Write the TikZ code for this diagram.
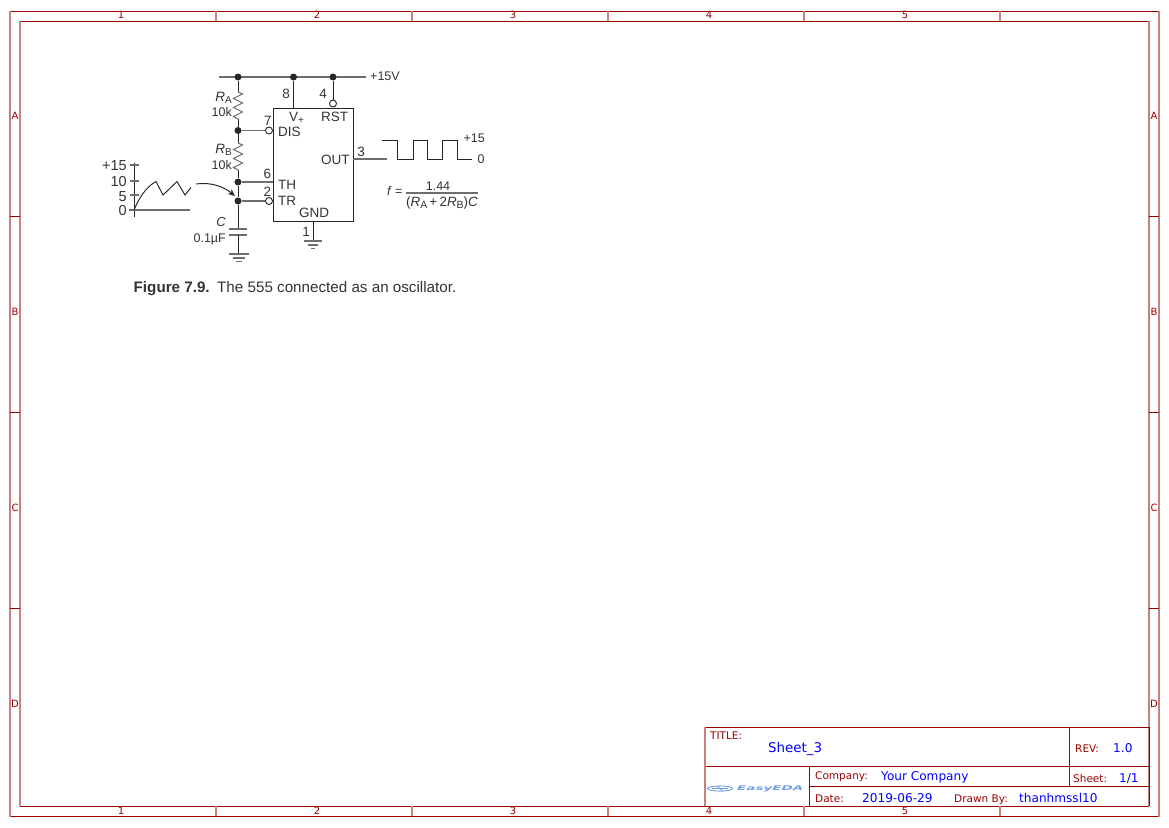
\documentclass[tikz,border=0pt]{standalone}
\usepackage{fontspec}
\setmainfont{Liberation Sans}
\newfontfamily\dv{DejaVu Sans}
\usetikzlibrary{arrows.meta}
\definecolor{fr}{HTML}{990000}
\definecolor{frl}{HTML}{C98080}
\definecolor{wire}{HTML}{262626}
\definecolor{gwire}{HTML}{6E6E6E}
\definecolor{txt}{HTML}{333333}
\definecolor{blu}{HTML}{0000FF}
\definecolor{logo}{HTML}{6F9FE8}
\tikzset{
  x=1pt,y=-1pt,
  frh/.style={draw=fr,line width=1pt},
  frv/.style={draw=frl,line width=1.7pt},
  lab/.style={inner sep=0,text=fr,font=\dv\fontsize{10.5}{10.5}\selectfont},
  labw/.style={lab,anchor=base west},
  labc/.style={lab,anchor=base,font=\dv\fontsize{10}{10}\selectfont},
  val/.style={inner sep=0,anchor=base west,text=blu,font=\dv\fontsize{12.1}{12.1}\selectfont},
  sch/.style={draw=wire,line width=.95pt},
  gsch/.style={draw=gwire,line width=1.3pt},
  chipbox/.style={draw=wire,line width=.95pt,inner sep=0,minimum width=80pt,minimum height=113pt},
  dotn/.style={circle,fill=wire,inner sep=0,minimum size=7pt},
  bub/.style={circle,draw=wire,fill=white,line width=.9pt,inner sep=0,minimum size=7pt},
  tx/.style={inner sep=0,text=txt,font=\fontsize{13.5}{13.5}\selectfont},
  txs/.style={inner sep=0,text=txt,font=\fontsize{12.5}{12.5}\selectfont},
}
\begin{document}
\begin{tikzpicture}
\useasboundingbox (0,0) rectangle (1169,827);
% frame
\draw[frh] (10,11)--(1159,11) (10,816.5)--(1159,816.5) (20,21)--(1149,21) (20,806)--(1149,806);
\draw[frv] (10,11)--(10,817) (1159,11)--(1159,817) (20,21)--(20,806) (1149,21)--(1149,806);
\foreach \x in {216,412,608,804,1000}{\draw[frv] (\x,11)--(\x,21) (\x,806)--(\x,816);}
\foreach \y in {216,412,608}{\draw[frh] (10,\y)--(20,\y) (1149,\y)--(1159,\y);}
\foreach \n/\x in {1/121,2/317,3/513,4/709,5/905}{
  \node[labc] (t\n) at (\x,18.5) {\n};
  \node[labc] (b\n) at (\x,814.5) {\n};}
\foreach \n/\y in {A/119,B/315,C/511,D/707}{
  \node[labc] (l\n) at (15,\y) {\n};
  \node[labc] (r\n) at (1154,\y) {\n};}
% title block
\draw[frh] (705,727)--(1149,727) (705,766)--(1149,766) (809,786)--(1149,786);
\draw[frv] (705,727)--(705,806);
\draw[frh] (1149,727)--(1149,806) (809,766)--(809,806) (1069,727)--(1069,786);
\node[labw] (title) at (710,739) {TITLE:};
\node[val,font=\dv\fontsize{13.4}{13.4}\selectfont] (sheetname) at (768,752) {Sheet\_3};
\node[labw] (rev) at (1075,752.5) {REV:};
\node[val] (revv) at (1113,752.5) {1.0};
\node[labw] (comp) at (815,779.5) {Company:};
\node[val] (compv) at (881,780) {Your Company};
\node[labw] (sh) at (1073,782) {Sheet:};
\node[val] (shv) at (1119,782) {1/1};
\node[labw] (date) at (815,802) {Date:};
\node[val] (datev) at (862,802) {2019-06-29};
\node[labw] (drawn) at (954,802) {Drawn By:};
\node[val] (drawnv) at (1019,802) {thanhmssl10};
% logo
\draw[logo,line width=.9pt] (720,788.5) ellipse [x radius=12.5,y radius=2.6];
\draw[logo,line width=.9pt] (712,788.5)--(728,788.5) (717,786)--(723,791);
\node[inner sep=0,anchor=west,text=logo] (easyeda) at (737,788.5)
  {\scalebox{1.42}[.68]{\dv\bfseries\itshape\fontsize{9.5}{9.5}\selectfont EasyEDA}};
% supply rail
\coordinate (railL) at (219,77);
\coordinate (railR) at (366,77);
\draw[gsch] (railL)--(railR);
\node[dotn] (d1) at (238,77) {};
\node[dotn] (d2) at (293.500,77) {};
\node[dotn] (d3) at (333,77) {};
\node[tx,anchor=base west,font=\fontsize{12.5}{12.5}\selectfont] (v15) at (370,80.5) {+15V};
% chip
\node[chipbox,anchor=north west] (chip) at (273,108) {};
\coordinate (p8) at (293.500,108);
\node[bub] (b4) at (333,103.5) {};
\draw[sch] (d2)--(p8);
\draw[sch] (d3)--(b4);
\node[tx,anchor=base] (n8) at (286,98) {8};
\node[tx,anchor=base] (n4) at (323,98) {4};
\node[tx,anchor=base west] (vp) at (289,121) {V\raisebox{-2.5pt}{\fontsize{10}{10}\selectfont +}};
\node[tx,anchor=base west] (rst) at (321,121) {RST};
\node[tx,anchor=base west] (dis) at (278,136) {DIS};
\node[tx,anchor=base west] (out) at (321,164) {OUT};
\node[tx,anchor=base west] (th) at (278,189.5) {TH};
\node[tx,anchor=base west] (tr) at (278,205.5) {TR};
\node[tx,anchor=base west] (gnd) at (299,217) {GND};
% timing network
\node[dotn] (d4) at (238,130.5) {};
\node[dotn] (d5) at (238,182) {};
\node[dotn] (d6) at (238,201) {};
\node[bub] (b7) at (269,130.5) {};
\node[bub] (b2) at (269,201) {};
\coordinate (ra1) at (238,92);
\coordinate (ra2) at (238,119);
\coordinate (rb1) at (238,143);
\coordinate (rb2) at (238,170);
\draw[sch] (d1)--(ra1);
\draw[gsch,line width=1.1pt] (ra1)--(242.500,94)--(233.500,98.500)--(242.500,103)--(233.500,107.500)--(242.500,112)--(233.500,116.500)--(ra2);
\draw[sch] (ra2)--(d4)--(rb1);
\draw[gsch,line width=1.1pt] (rb1)--(242.500,145)--(233.500,149.500)--(242.500,154)--(233.500,158.500)--(242.500,163)--(233.500,167.500)--(rb2);
\draw[sch] (rb2)--(d5)--(d6);
\draw[gsch] (d4)--(b7);
\draw[gsch] (d5)--(chip.west|-d5);
\draw[gsch] (d6)--(b2);
\node[tx,anchor=base] (n7) at (268,125) {7};
\node[tx,anchor=base] (n6) at (267.500,178.500) {6};
\node[tx,anchor=base] (n2) at (267.500,196.500) {2};
\node[tx,anchor=base east] (ra) at (232,101) {\textit{R}\raisebox{-2.5pt}{\fontsize{10}{10}\selectfont A}};
\node[txs,anchor=base east] (rav) at (232,116) {10k};
\node[tx,anchor=base east] (rb) at (232,153) {\textit{R}\raisebox{-2.5pt}{\fontsize{10}{10}\selectfont B}};
\node[txs,anchor=base east] (rbv) at (232,169) {10k};
% capacitor
\coordinate (c1) at (238,229);
\coordinate (c2) at (238,235);
\coordinate (g1) at (238,254);
\draw[sch] (d6)--(c1);
\draw[gsch] (229,229)--(247,229) (229,235)--(247,235);
\draw[sch] (c2)--(g1);
\draw[gsch] (229,254)--(249,254) (233,258)--(245,258) (236,261.500)--(242,261.500);
\node[tx,anchor=base,font=\itshape\fontsize{13}{13}\selectfont] (cl) at (221,226) {C};
\node[txs,anchor=base east] (cv) at (226,242) {0.1µF};
% gnd pin
\coordinate (p1) at (313,221);
\coordinate (g2) at (313,241);
\draw[sch] (p1)--(g2);
\draw[gsch] (304,241)--(322,241) (308,245)--(318,245) (311,248.500)--(315,248.500);
\node[tx,anchor=base] (n1) at (306,236) {1};
% output
\coordinate (o1) at (353,159);
\coordinate (o2) at (387,159);
\draw[gsch] (o1)--(o2);
\node[tx,anchor=base] (n3) at (361,156) {3};
\draw[sch] (382,140)--(397.500,140)--(397.500,159)--(413,159)--(413,140)--(427,140)--(427,159)--(442,159)--(442,140)--(457,140)--(457,159)--(472,159);
\node[txs,anchor=base east] (p15) at (485,142) {+15};
\node[txs,anchor=base] (z0) at (481,163.500) {0};
% formula
\coordinate (fa) at (406,193);
\coordinate (fb) at (478,193);
\draw[gsch] (fa)--(fb);
\node[txs,anchor=base west] (feq) at (387,195) {\textit{f} =};
\node[txs,anchor=base] (fn) at (438,190.500) {1.44};
\node[txs,anchor=base,font=\fontsize{13.4}{13.4}\selectfont] (fd) at (442,206) {(\textit{R}\raisebox{-2pt}{\fontsize{10.5}{10.5}\selectfont A}\,+\,2\textit{R}\raisebox{-2pt}{\fontsize{10.5}{10.5}\selectfont B})\textit{C}};
% input graph
\coordinate (ax1) at (134,163);
\coordinate (ax2) at (134,217);
\coordinate (bl1) at (129,210);
\coordinate (bl2) at (190,210);
\draw[sch] (ax1)--(ax2);
\draw[gsch] (bl1)--(bl2);
\draw[gsch] (130,165)--(139,165) (130,181)--(139,181) (130,195)--(139,195);
\draw[sch] (134,210) .. controls (139,198) and (146,187) .. (156,181.500)--(163,195)--(177,181.500)--(185,195)--(191,187.500);
\node[tx,anchor=base east,font=\fontsize{14.5}{14.5}\selectfont] (y15) at (127,170.500) {+15};
\node[tx,anchor=base east,font=\fontsize{14.5}{14.5}\selectfont] (y10) at (127,186.500) {10};
\node[tx,anchor=base east,font=\fontsize{14.5}{14.5}\selectfont] (y5) at (127,201) {5};
\node[tx,anchor=base east,font=\fontsize{14.5}{14.5}\selectfont] (y0) at (127,215.500) {0};
\coordinate (a1) at (196,184);
\coordinate (a2) at (235,196);
\draw[sch,-{Stealth[length=7pt,width=6pt]}] (a1) .. controls (210,182) and (223,186) .. (a2);
% caption
\node[tx,anchor=base west,font=\bfseries\fontsize{15.2}{15.2}\selectfont] (figl) at (133.500,292) {Figure 7.9.};
\node[tx,anchor=base west,font=\fontsize{15.2}{15.2}\selectfont] (figt) at (217,292) {The 555 connected as an oscillator.};
\end{tikzpicture}
\end{document}
